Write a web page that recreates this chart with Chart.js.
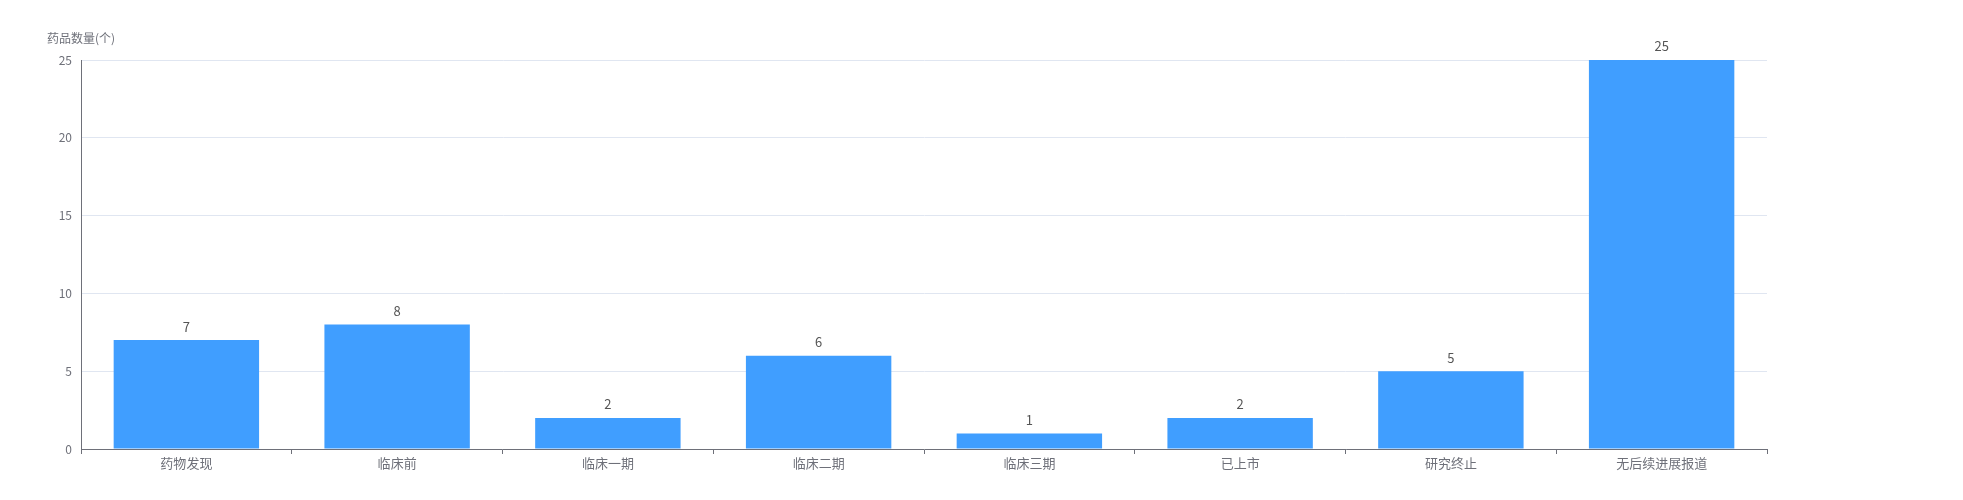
<!DOCTYPE html>
<html>
<head>
<meta charset="utf-8">
<script src="https://cdn.jsdelivr.net/npm/chart.js@4"></script>
<style>
  html, body { margin: 0; padding: 0; background: #fff; }
  #wrap { width: 1963px; height: 500px; }
</style>
</head>
<body>
<div id="wrap"><canvas id="chartPhase"></canvas></div>
<script>
const categories = ['药物发现', '临床前', '临床一期', '临床二期', '临床三期', '已上市', '研究终止', '无后续进展报道'];
const drugCounts = [7, 8, 2, 6, 1, 2, 5, 25];
const yTicks = [0, 5, 10, 15, 20, 25];
const yTitle = '药品数量(个)';

const FONT = '"Noto Sans CJK SC", "Noto Sans", sans-serif';

// value above each bar + axis name above the y axis
const barLabels = {
    id: 'barLabels',
    afterDatasetsDraw(chart) {
        const ctx = chart.ctx;
        const meta = chart.getDatasetMeta(0);
        ctx.save();
        ctx.font = '13px ' + FONT;
        ctx.fillStyle = '#555';
        ctx.textAlign = 'center';
        ctx.textBaseline = 'bottom';
        meta.data.forEach((bar, i) => {
            ctx.fillText(drugCounts[i], bar.x, bar.y - 7);
        });
        ctx.font = '12px ' + FONT;
        ctx.fillStyle = '#6E7079';
        ctx.textBaseline = 'middle';
        ctx.fillText(yTitle, chart.chartArea.left, 38);
        ctx.restore();
    }
};

const ctxPhase = document.getElementById('chartPhase').getContext('2d');
new Chart(ctxPhase, {
    type: 'bar',
    data: {
        labels: categories,
        datasets: [{
            data: drugCounts,
            backgroundColor: '#409EFF',
            barPercentage: 0.69,
            categoryPercentage: 1
        }]
    },
    options: {
        responsive: true,
        maintainAspectRatio: false,
        animation: false,
        layout: { padding: { top: 60, right: 196, left: 0, bottom: 0 } },
        scales: {
            x: {
                offset: true,
                grid: { display: true, drawOnChartArea: false, offset: true, color: '#6E7079', tickLength: 5 },
                border: { color: '#6E7079', width: 1 },
                ticks: { color: '#6E7079', font: { size: 13, family: FONT }, padding: 1, maxRotation: 0, autoSkip: false },
                afterFit(scale) { scale.height = 51; }
            },
            y: {
                min: 0,
                max: 25,
                afterBuildTicks(scale) { scale.ticks = yTicks.map(v => ({ value: v })); },
                grid: { color: '#E0E6F1', drawTicks: false },
                border: { color: '#6E7079', width: 1 },
                ticks: { color: '#6E7079', font: { size: 12, family: FONT }, padding: 9 },
                afterFit(scale) { scale.width = 81; }
            }
        },
        plugins: {
            legend: { display: false },
            tooltip: { enabled: false }
        }
    },
    plugins: [barLabels]
});
</script>
</body>
</html>
